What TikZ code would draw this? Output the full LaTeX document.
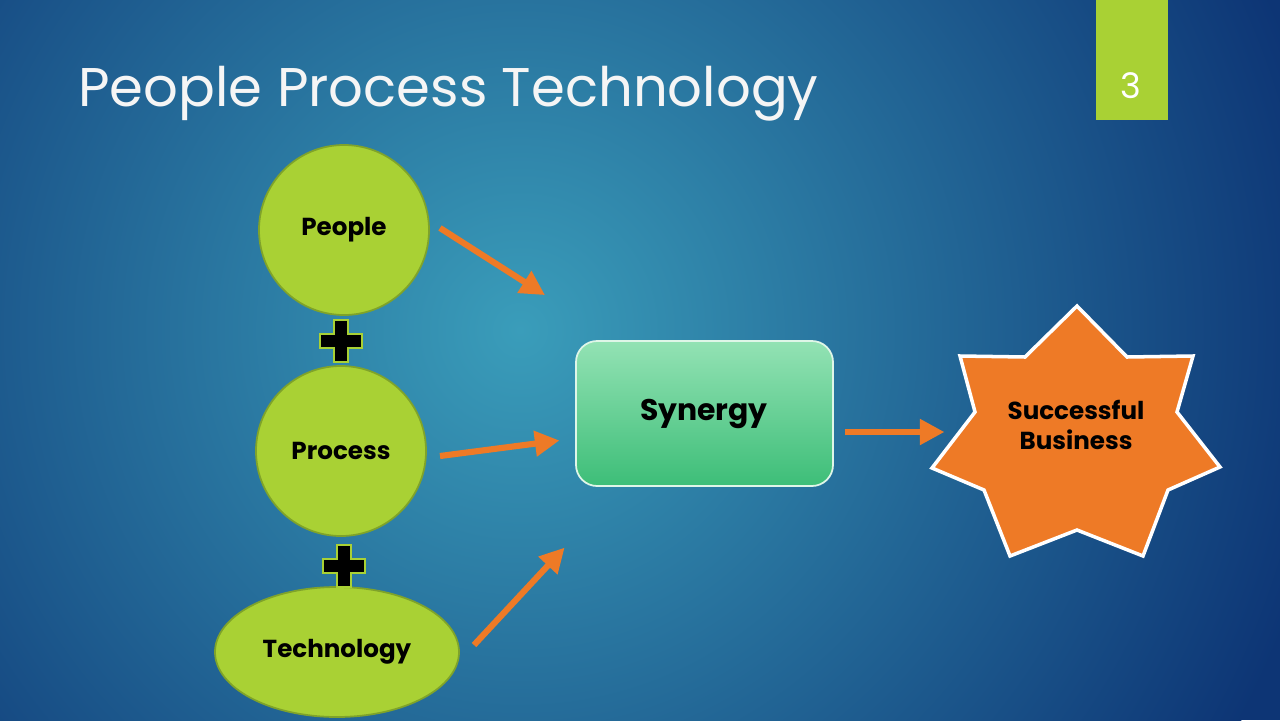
\documentclass[tikz,border=0pt]{standalone}
\usepackage{fontspec}
\setmainfont{Poppins}
\usetikzlibrary{arrows.meta,positioning,shapes.geometric}

\definecolor{bgdark}{HTML}{0D3575}
\definecolor{bglight}{HTML}{3A9DBA}
\definecolor{leaf}{HTML}{A9D134}
\definecolor{leafline}{HTML}{7FA32A}
\definecolor{flame}{HTML}{EE7A26}
\definecolor{mintTop}{HTML}{93E2B4}
\definecolor{mintBot}{HTML}{3DBE78}

\begin{document}
\begin{tikzpicture}
      [
        x=0.02cm, y=-0.02cm,
        Ball/.style={draw=leafline, fill=leaf, line width=1pt, font=\bfseries\fontsize{14}{16}\selectfont},
        Push/.style={-{Triangle[length=14pt, width=14pt]}, draw=flame, line width=3.5pt, shorten >=2pt},
        Plus/.style={fill=black, draw=leaf, line width=1.2pt},
      ]

      \useasboundingbox (0,0) rectangle (1280,720);
      \begin{scope}
        \clip (0,0) rectangle (1280,720);
        \fill[bgdark] (0,0) rectangle (1280,720);
        \shade[inner color=bglight, outer color=bgdark] (520,330) circle (820);
      \end{scope}

      % title and slide number
      \node[anchor=base west, text=white!92!gray, font=\fontsize{31}{36}\selectfont, inner sep=0pt] (title) at (78,106) {People Process Technology};
      \fill[leaf] (1096,0) rectangle (1168,120);
      \node[text=white, font=\fontsize{20}{24}\selectfont] (num) at (1131,86) {3};

      % the three parts
      \node [Ball, circle, minimum size=170*0.02cm] (people) at (344,230) {People};
      \node [Ball, circle, minimum size=170*0.02cm] (process) at (341,451) {Process};
      \node [Ball, ellipse, minimum width=244*0.02cm, minimum height=130*0.02cm] (tech) at (337,652) {Technology};

      \foreach \px/\py in {341/341, 344/566} {
        \path[Plus] (\px-7,\py-21) -- (\px+7,\py-21) -- (\px+7,\py-7) -- (\px+21,\py-7) -- (\px+21,\py+7)
          -- (\px+7,\py+7) -- (\px+7,\py+21) -- (\px-7,\py+21) -- (\px-7,\py+7) -- (\px-21,\py+7)
          -- (\px-21,\py-7) -- (\px-7,\py-7) -- cycle;
      }

      % synergy box
      \shade[top color=mintTop, bottom color=mintBot, draw=white!70!mintTop, line width=1pt, rounded corners=12pt]
        (576,341) rectangle (833,486);
      \node [font=\bfseries\fontsize{17}{20}\selectfont, text=black] (syn) at (704,414) {Synergy};
      \coordinate (synW) at (576,414);

      % the star
      \path[fill=flame, draw=white, line width=2pt]
        (1077,306) -- (1127,357) -- (1193,356) -- (1177,412) -- (1220,467) -- (1168,490) -- (1143,556)
        -- (1077,530) -- (1010,556) -- (984,490) -- (932,468) -- (975,412) -- (960,356) -- (1025,357) -- cycle;
      \node [font=\bfseries\fontsize{14}{17}\selectfont, align=center] (biz) at (1076,425) {Successful\\Business};
      \coordinate (bizW) at (948,432);

      % connectors
      \coordinate (pA) at (440,228);
      \coordinate (pB) at (548,297);
      \coordinate (qA) at (440,456);
      \coordinate (qB) at (563,440);
      \coordinate (tA) at (474,645);
      \coordinate (tB) at (567,545);
      \coordinate (sA) at (845,432);
      \draw[Push] (pA) -- (pB);
      \draw[Push] (qA) -- (qB);
      \draw[Push] (tA) -- (tB);
      \draw[Push] (sA) -- (bizW);
    \end{tikzpicture}
\end{document}
